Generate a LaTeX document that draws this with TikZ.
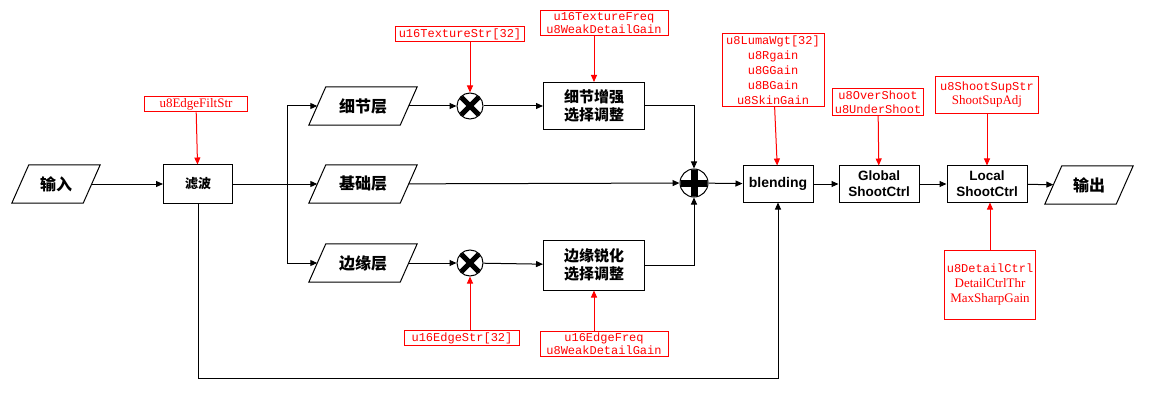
\documentclass[tikz,border=0pt]{standalone}
\usepackage{fontspec}
\setmainfont{Liberation Serif}
\newfontfamily\cjk{Noto Sans CJK SC}
\newfontfamily\lsans{Liberation Sans}
\newfontfamily\lmono{Liberation Mono}
\usetikzlibrary{arrows.meta}
\newcommand{\paraline}[1]{\draw[line width=1pt] ([xshift=-8.5pt]#1.south west) -- ([xshift=8.5pt]#1.north west) -- ([xshift=8.5pt]#1.north east) -- ([xshift=-8.5pt]#1.south east) -- cycle;}
\begin{document}
\begin{tikzpicture}[x=1pt,y=-1pt,
  blk/.style={draw,line width=1pt,minimum width=#1,inner sep=1pt,align=center,font=\cjk\bfseries\fontsize{15}{18}\selectfont},
  para/.style={minimum width=#1,minimum height=38pt,inner sep=0pt,font=\cjk\bfseries\fontsize{16}{18}\selectfont},
  par/.style={draw=red,line width=1pt,text=red,align=center,inner sep=2pt,font=\lmono\fontsize{12}{17}\selectfont},
  pars/.style={par,font=\fontsize{13}{17}\selectfont},
  ar/.style={-{Triangle[length=7pt,width=6pt]},line width=1pt},
  rar/.style={ar,red}]
\useasboundingbox (0,0) rectangle (1154,401);
% main nodes
\node[para=71pt] (in) at (56,184) {输入}; \paraline{in}
\node[blk=69pt,minimum height=38pt,font=\cjk\bfseries\fontsize{13}{15}\selectfont] (f) at (198,184) {滤波};
\node[para=91pt] (d) at (363,106) {细节层}; \paraline{d}
\node[para=91pt] (b) at (363,184) {基础层}; \paraline{b}
\node[para=91pt] (e) at (363,263) {边缘层}; \paraline{e}
\node[draw,circle,line width=1pt,minimum size=26pt,inner sep=0pt] (m1) at (470,106) {};
\node[draw,circle,line width=1pt,minimum size=26pt,inner sep=0pt] (m2) at (470,263) {};
\node[draw,circle,line width=1pt,minimum size=28pt,inner sep=0pt] (s) at (694,183) {};
\node[blk=101pt,minimum height=47pt] (da) at (594,106) {细节增强\\选择调整};
\node[blk=101pt,minimum height=50pt] (ea) at (594,265) {边缘锐化\\选择调整};
\node[blk=70pt,minimum height=36pt,font=\lsans\bfseries\fontsize{14}{16}\selectfont] (bl) at (778,184) {blending};
\node[blk=80pt,minimum height=36pt,font=\lsans\bfseries\fontsize{13.5}{16}\selectfont] (g) at (879,184) {Global\\ShootCtrl};
\node[blk=80pt,minimum height=36pt,font=\lsans\bfseries\fontsize{13.5}{16}\selectfont] (l) at (987,184) {Local\\ShootCtrl};
\node[para=71pt] (o) at (1089,185) {输出}; \paraline{o}
% X and + marks
\begin{scope}
\clip (m1) circle (12.5pt);
\draw[line width=5pt] (m1.north west) -- (m1.south east) (m1.north east) -- (m1.south west);
\end{scope}
\begin{scope}
\clip (m2) circle (12.5pt);
\draw[line width=5pt] (m2.north west) -- (m2.south east) (m2.north east) -- (m2.south west);
\end{scope}
\begin{scope}
\clip (s) circle (13.5pt);
\draw[line width=7pt] (s.north) -- (s.south) (s.west) -- (s.east);
\end{scope}
% parameter boxes
\node[pars,minimum width=103pt] (p1) at (196,104) {u8EdgeFiltStr};
\node[par,minimum width=129pt] (p2) at (460,34) {u16TextureStr[32]};
\node[par,minimum width=128pt] (p3) at (604,23) {u16TextureFreq\\[-4pt]u8WeakDetailGain};
\node[par,minimum width=115pt] (p4) at (462,338) {u16EdgeStr[32]};
\node[par,minimum width=128pt] (p5) at (604,344) {u16EdgeFreq\\[-4pt]u8WeakDetailGain};
\node[par,minimum width=102pt,font=\lmono\fontsize{12}{16}\selectfont] (p6) at (773,70) {u8LumaWgt[32]\\[-1pt]u8Rgain\\[-1pt]u8GGain\\[-1pt]u8BGain\\[-1pt]u8SkinGain};
\node[par,minimum width=91pt] (p7) at (878,102) {u8OverShoot\\[-3pt]u8UnderShoot};
\node[par,minimum width=103pt,minimum height=37pt] (p8) at (987,95) {u8ShootSupStr\\[-3pt]{\rmfamily\fontsize{13}{16}\selectfont ShootSupAdj}};
\node[par,minimum width=91pt,minimum height=69pt] (p9) at (990,285) {u8DetailCtrl\\[-2pt]{\rmfamily\fontsize{13}{16}\selectfont DetailCtrlThr}\\[-2pt]{\rmfamily\fontsize{13}{16}\selectfont MaxSharpGain}};
% connectors
\draw[ar] (in) -- (f);
\draw[ar] (f) -- (b);
\draw[ar] (287,184) |- (d);
\draw[ar] (287,184) |- (e);
\draw[ar] (d) -- (m1);
\draw[ar] (e) -- (m2);
\draw[ar] (m1) -- (da);
\draw[ar] (m2) -- (ea);
\draw[ar] (da) -| (s);
\draw[ar] (ea) -| (s);
\draw[ar] (b) -- (s);
\draw[ar] (s) -- (bl);
\draw[ar] (bl) -- (g);
\draw[ar] (g) -- (l);
\draw[ar] (l) -- (o);
\draw[ar] (f.south) -- (198,378) -| (bl.south);
% red connectors
\draw[rar] (p1) -- (f);
\draw[rar] (p2.south -| m1) -- (m1);
\draw[rar] (p4.north -| m2) -- (m2);
\draw[rar] (p3.south -| da) -- (da);
\draw[rar] (p5.north -| ea) -- (ea);
\draw[rar] (p6) -- (bl);
\draw[rar] (p7) -- (g);
\draw[rar] (p8) -- (l);
\draw[rar] (p9.north) -- (p9.north |- l.south);
\end{tikzpicture}
\end{document}
